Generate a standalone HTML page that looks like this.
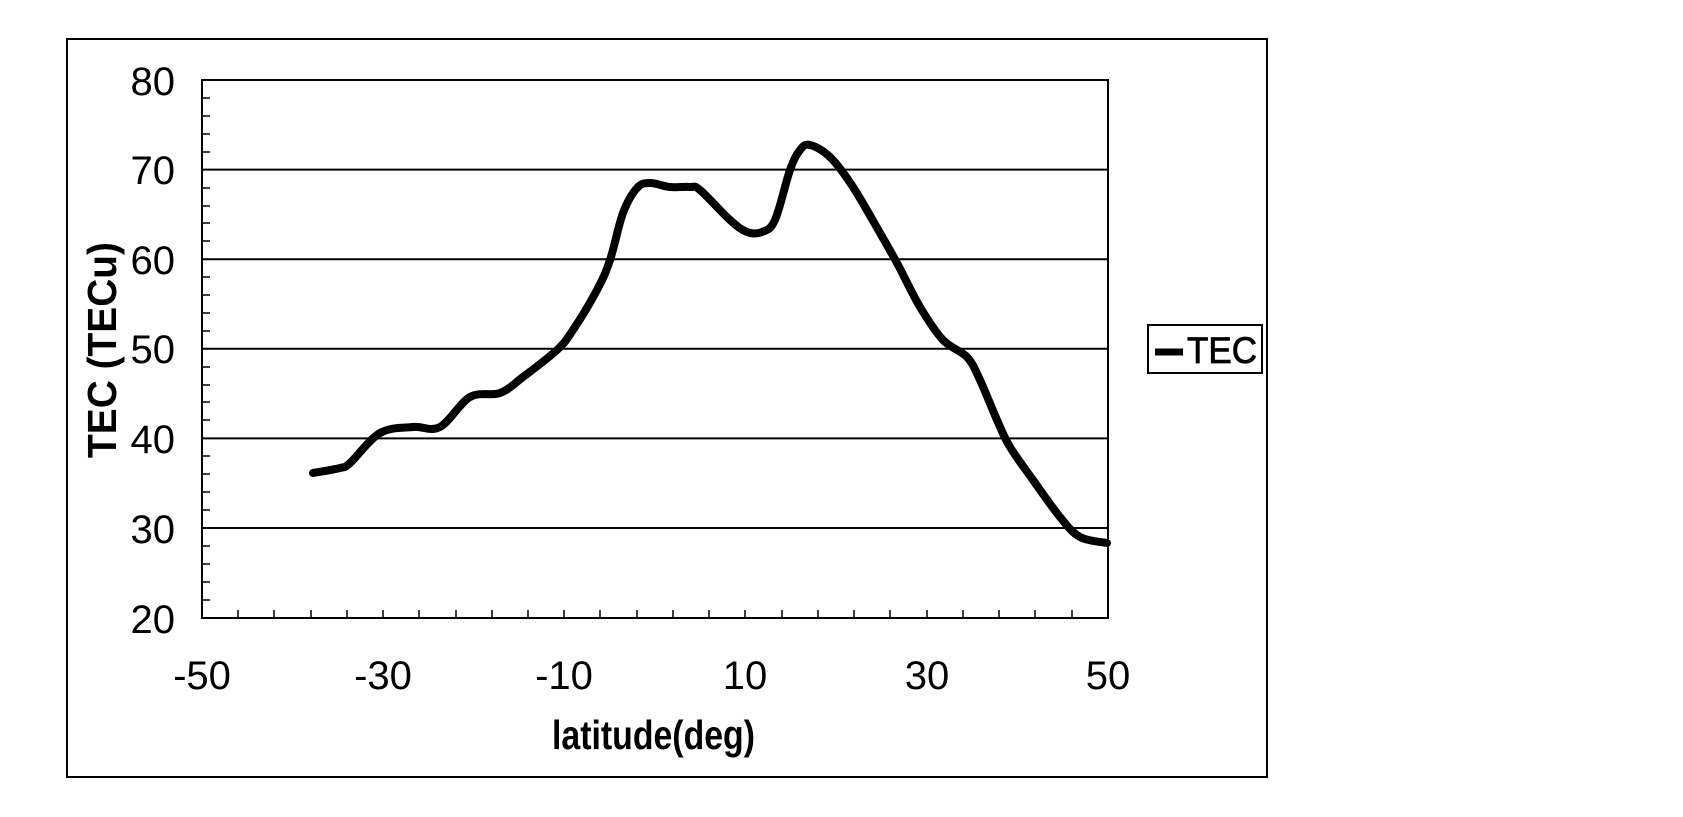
<!DOCTYPE html>
<html><head><meta charset="utf-8"><style>
html,body{margin:0;padding:0;background:#fff;}
svg{display:block;}
</style></head><body>
<svg width="1683" height="817" viewBox="0 0 1683 817" xmlns="http://www.w3.org/2000/svg" font-family="Liberation Sans, Arial, sans-serif">
<rect x="67" y="39" width="1200" height="738" fill="none" stroke="#000" stroke-width="2"/>
<g stroke="#000" stroke-width="2">
<line x1="202" y1="169.6" x2="1108" y2="169.6"/>
<line x1="202" y1="259.2" x2="1108" y2="259.2"/>
<line x1="202" y1="348.8" x2="1108" y2="348.8"/>
<line x1="202" y1="438.4" x2="1108" y2="438.4"/>
<line x1="202" y1="528" x2="1108" y2="528"/>
</g>
<rect x="202" y="80" width="906" height="538" fill="none" stroke="#000" stroke-width="2"/>
<g font-size="40" text-anchor="end">
<text x="175" y="95">80</text>
<text x="175" y="184">70</text>
<text x="175" y="274">60</text>
<text x="175" y="363">50</text>
<text x="175" y="453">40</text>
<text x="175" y="543">30</text>
<text x="175" y="633">20</text>
</g>
<g font-size="40" text-anchor="middle">
<text x="202" y="689">-50</text>
<text x="383" y="689">-30</text>
<text x="564" y="689">-10</text>
<text x="745" y="689">10</text>
<text x="927" y="689">30</text>
<text x="1108" y="689">50</text>
</g>
<text x="552" y="749" font-size="41" font-weight="bold" textLength="203" lengthAdjust="spacingAndGlyphs">latitude(deg)</text>
<text transform="translate(116,350) rotate(-90)" font-size="41" font-weight="bold" text-anchor="middle" textLength="216" lengthAdjust="spacingAndGlyphs">TEC (TECu)</text>
<path id="curve" fill="none" stroke="#000" stroke-width="8" stroke-linejoin="round" stroke-linecap="round"
d="M313,473 L340,468 L350,463 L380,433 L413,427 L440,427 L470,397 L500,393 L523,377 L557,350 L573,330 L597,290 L610,260 L623,213 L637,188 L650,183 L670,187 L690,187 L700,190 L730,220 L747,232 L762,232 L775,220 L790,170 L800,150 L810,145 L830,157 L853,187 L880,233 L897,263 L920,307 L943,340 L967,357 L980,380 L997,420 L1010,447 L1033,480 L1060,517 L1080,537 L1107,543"/>
<rect x="1148" y="325" width="114" height="48" fill="#fff" stroke="#000" stroke-width="2"/>
<line x1="1155" y1="352" x2="1183" y2="352" stroke="#000" stroke-width="7"/>
<text x="1187" y="363" font-size="37" stroke="#000" stroke-width="0.8" textLength="70" lengthAdjust="spacingAndGlyphs">TEC</text>
<g stroke="#000" stroke-width="1.5">
<line x1="202" y1="98" x2="210" y2="98"/><line x1="202" y1="116" x2="210" y2="116"/><line x1="202" y1="134" x2="210" y2="134"/><line x1="202" y1="152" x2="210" y2="152"/>
<line x1="202" y1="188" x2="210" y2="188"/><line x1="202" y1="206" x2="210" y2="206"/><line x1="202" y1="223" x2="210" y2="223"/><line x1="202" y1="241" x2="210" y2="241"/>
<line x1="202" y1="277" x2="210" y2="277"/><line x1="202" y1="295" x2="210" y2="295"/><line x1="202" y1="313" x2="210" y2="313"/><line x1="202" y1="331" x2="210" y2="331"/>
<line x1="202" y1="367" x2="210" y2="367"/><line x1="202" y1="385" x2="210" y2="385"/><line x1="202" y1="402" x2="210" y2="402"/><line x1="202" y1="420" x2="210" y2="420"/>
<line x1="202" y1="456" x2="210" y2="456"/><line x1="202" y1="474" x2="210" y2="474"/><line x1="202" y1="492" x2="210" y2="492"/><line x1="202" y1="510" x2="210" y2="510"/>
<line x1="202" y1="546" x2="210" y2="546"/><line x1="202" y1="564" x2="210" y2="564"/><line x1="202" y1="582" x2="210" y2="582"/><line x1="202" y1="600" x2="210" y2="600"/>
<line x1="238" y1="618" x2="238" y2="610"/><line x1="274" y1="618" x2="274" y2="610"/><line x1="311" y1="618" x2="311" y2="610"/><line x1="347" y1="618" x2="347" y2="610"/>
<line x1="383" y1="618" x2="383" y2="610"/><line x1="419" y1="618" x2="419" y2="610"/><line x1="456" y1="618" x2="456" y2="610"/><line x1="492" y1="618" x2="492" y2="610"/>
<line x1="528" y1="618" x2="528" y2="610"/><line x1="564" y1="618" x2="564" y2="610"/><line x1="600" y1="618" x2="600" y2="610"/><line x1="637" y1="618" x2="637" y2="610"/>
<line x1="673" y1="618" x2="673" y2="610"/><line x1="709" y1="618" x2="709" y2="610"/><line x1="745" y1="618" x2="745" y2="610"/><line x1="782" y1="618" x2="782" y2="610"/>
<line x1="818" y1="618" x2="818" y2="610"/><line x1="854" y1="618" x2="854" y2="610"/><line x1="890" y1="618" x2="890" y2="610"/><line x1="927" y1="618" x2="927" y2="610"/>
<line x1="963" y1="618" x2="963" y2="610"/><line x1="999" y1="618" x2="999" y2="610"/><line x1="1035" y1="618" x2="1035" y2="610"/><line x1="1072" y1="618" x2="1072" y2="610"/>
</g>
</svg>
<script>
(function(){
var p=document.getElementById('curve');
var nums=p.getAttribute('d').match(/-?\d+(\.\d+)?/g).map(Number);
var pts=[];for(var i=0;i<nums.length;i+=2)pts.push([nums[i],nums[i+1]]);
var d='M'+pts[0][0]+','+pts[0][1];
for(var i=0;i<pts.length-1;i++){
var p0=pts[i-1]||pts[i],p1=pts[i],p2=pts[i+1],p3=pts[i+2]||p2;
var c1x=p1[0]+(p2[0]-p0[0])/6,c1y=p1[1]+(p2[1]-p0[1])/6;
var c2x=p2[0]-(p3[0]-p1[0])/6,c2y=p2[1]-(p3[1]-p1[1])/6;
d+=' C'+c1x.toFixed(1)+','+c1y.toFixed(1)+' '+c2x.toFixed(1)+','+c2y.toFixed(1)+' '+p2[0]+','+p2[1];
}
p.setAttribute('d',d);
})();
</script>
</body></html>
